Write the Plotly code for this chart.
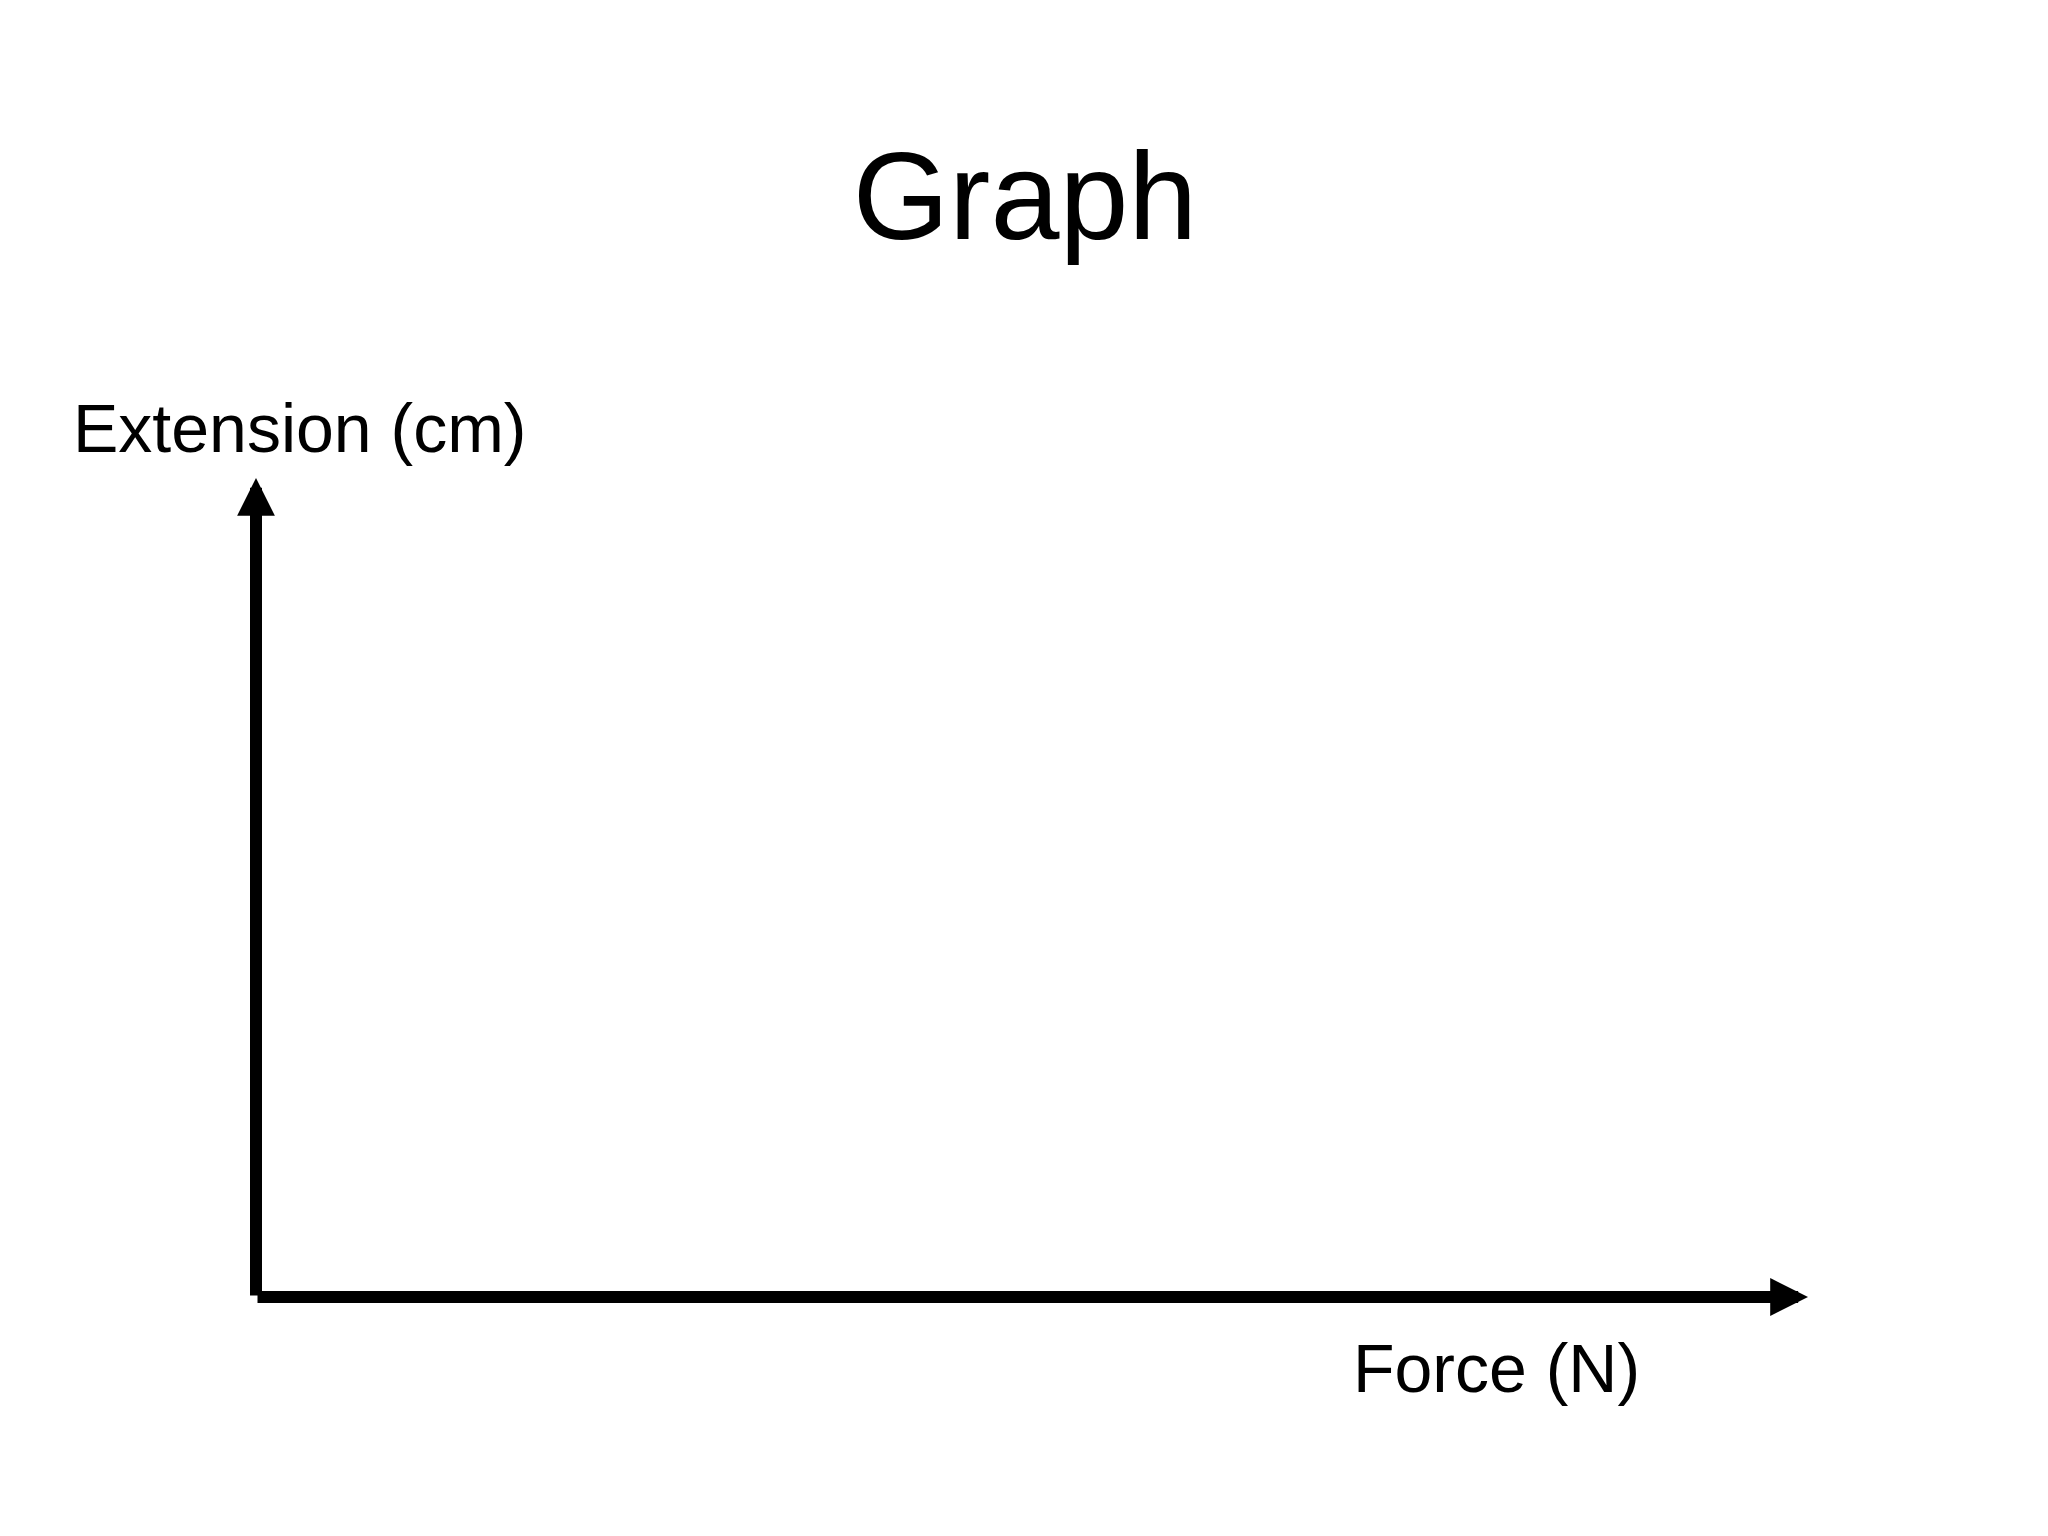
import plotly.graph_objects as go

# Chart content
title_text = "Graph"
x_label = "Force (N)"
y_label = "Extension (cm)"
x_range = [0, 1]
y_range = [0, 1]
origin = [0, 0]

W, H = 2048, 1536
L, R, T, B = 248, 248, 470, 247
PW, PH = W - L - R, H - T - B


def px_x(px):
    return (px - L) / PW


def px_y(py):
    return (H - B - py) / PH


fig = go.Figure()
fig.add_trace(go.Scatter(x=[], y=[], mode="lines", showlegend=False))

arrow_style = dict(showarrow=True, arrowhead=2, arrowsize=0.63, arrowwidth=12,
                   arrowcolor="black", text="", xref="x", yref="y", axref="x", ayref="y")
# x axis arrow
fig.add_annotation(x=x_range[1], y=origin[1], ax=origin[0], ay=origin[1], **arrow_style)
# y axis arrow
fig.add_annotation(x=origin[0], y=y_range[1], ax=origin[0], ay=origin[1], **arrow_style)

font = "Liberation Sans, Arial, sans-serif"
fig.add_annotation(text=y_label, xref="paper", yref="paper", x=px_x(63), y=px_y(420),
                   xanchor="left", yanchor="middle", showarrow=False,
                   font=dict(family=font, size=68, color="black"))
fig.add_annotation(text=x_label, xref="paper", yref="paper", x=px_x(1343), y=px_y(1360),
                   xanchor="left", yanchor="middle", showarrow=False,
                   font=dict(family=font, size=68, color="black"))

fig.update_layout(
    width=W, height=H, autosize=False,
    margin=dict(l=L, r=R, t=T, b=B, pad=0),
    paper_bgcolor="white", plot_bgcolor="white",
    title=dict(text=title_text, x=0.5 - 7 / W, xanchor="center", xref="container",
               y=1 - 188 / H, yref="container", yanchor="middle",
               font=dict(family=font, size=124, color="black")),
    xaxis=dict(range=x_range, visible=False, fixedrange=True),
    yaxis=dict(range=y_range, visible=False, fixedrange=True),
    showlegend=False,
)

fig.write_html("out.html")
